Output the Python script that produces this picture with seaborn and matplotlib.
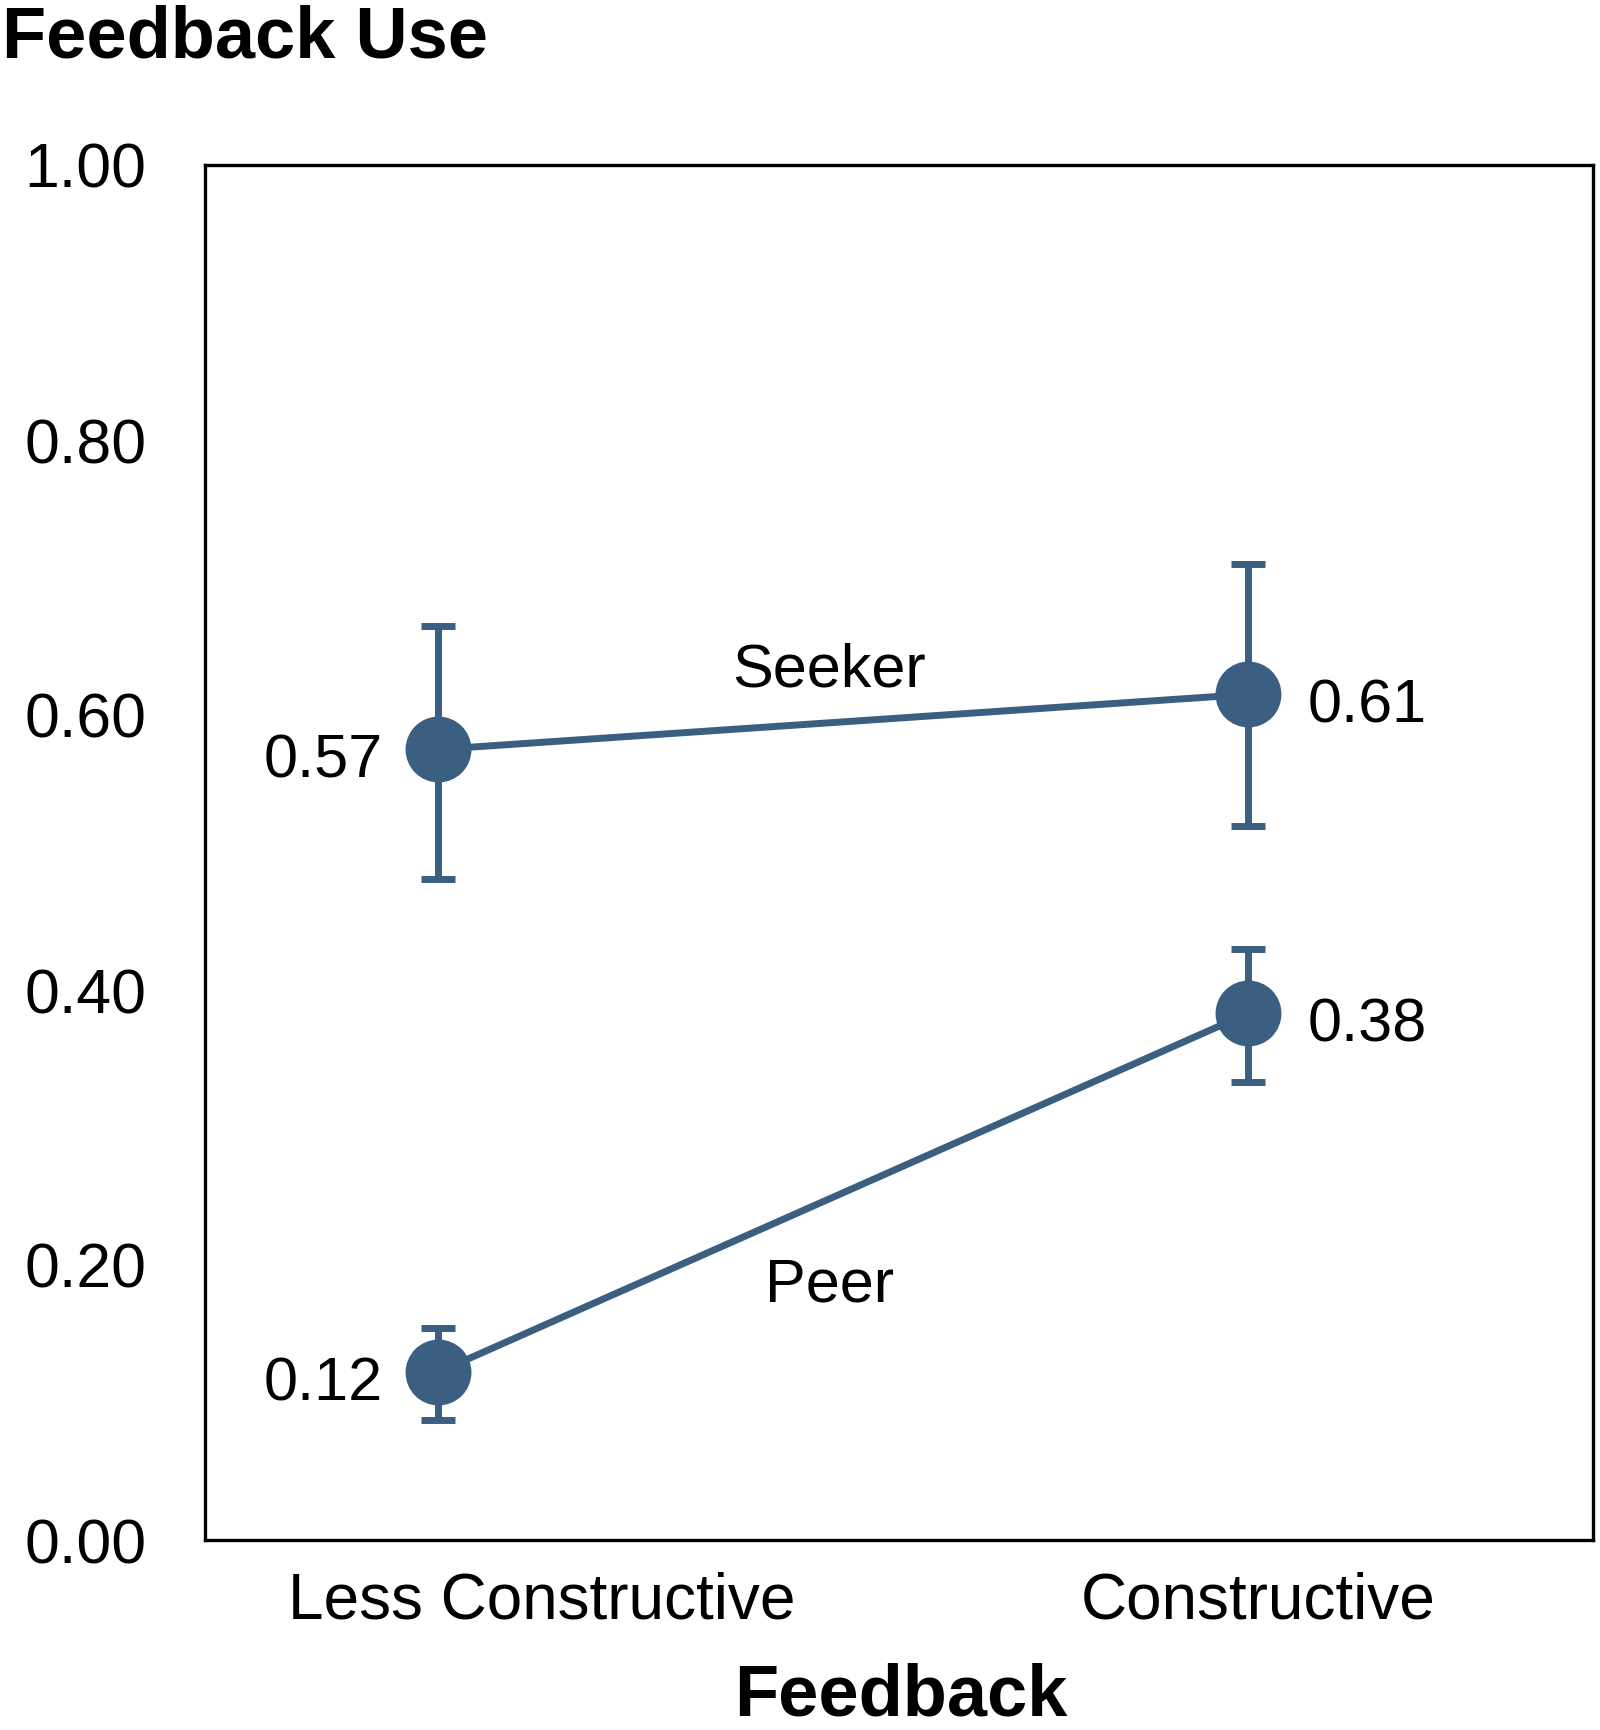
import numpy as np
import pandas as pd
import matplotlib
matplotlib.use("Agg")
import matplotlib.pyplot as plt
import matplotlib.transforms as mtransforms
import seaborn as sns

# values
feedback = ["Less Constructive", "Constructive"]
seeker_mean = [0.575, 0.615]
seeker_low = [0.481, 0.519]
seeker_high = [0.665, 0.710]
peer_mean = [0.122, 0.383]
peer_low = [0.087, 0.333]
peer_high = [0.154, 0.430]
seeker_labels = ["0.57", "0.61"]
peer_labels = ["0.12", "0.38"]
yticks = [0.0, 0.2, 0.4, 0.6, 0.8, 1.0]

COLOR = "#3a5f80"

sns.set_style("white")
plt.rcParams["font.family"] = ["Liberation Sans", "DejaVu Sans"]
plt.rcParams["text.color"] = "black"
plt.rcParams["xtick.color"] = "black"
plt.rcParams["ytick.color"] = "black"
plt.rcParams["axes.labelcolor"] = "black"

rows = []
for grp, means, lows, highs, labs in [
    ("Seeker", seeker_mean, seeker_low, seeker_high, seeker_labels),
    ("Peer", peer_mean, peer_low, peer_high, peer_labels),
]:
    for i, cat in enumerate(feedback):
        rows.append({"group": grp, "feedback": cat, "pos": i,
                     "mean": means[i], "low": lows[i], "high": highs[i],
                     "label": labs[i]})
df = pd.DataFrame(rows)

fig = plt.figure(figsize=(16, 17.3), dpi=100)
ax = fig.add_axes([205 / 1600, 1 - 1540 / 1730, 1388 / 1600, 1375 / 1730])

# error bars
for grp, d in df.groupby("group"):
    ax.errorbar(d["pos"], d["mean"],
                yerr=[d["mean"] - d["low"], d["high"] - d["mean"]],
                fmt="none", ecolor=COLOR, elinewidth=5, capsize=12.5,
                capthick=5, zorder=2)

sns.lineplot(data=df, x="pos", y="mean", units="group", estimator=None,
             color=COLOR, linewidth=5, ax=ax, zorder=3, legend=False)
sns.scatterplot(data=df, x="pos", y="mean", color=COLOR, s=2250,
                linewidth=0, ax=ax, zorder=4, legend=False)

# value labels next to points
for _, r in df.iterrows():
    if r["pos"] == 0:
        ax.annotate(r["label"], (r["pos"], r["mean"]), xytext=(-40, -20),
                    textcoords="offset points", ha="right", va="baseline",
                    fontsize=44)
    else:
        ax.annotate(r["label"], (r["pos"], r["mean"]), xytext=(43, -20),
                    textcoords="offset points", ha="left", va="baseline",
                    fontsize=44)

ax.text(0.483, 0.632, "Seeker", fontsize=44, ha="center", va="center")
ax.text(0.483, 0.185, "Peer", fontsize=44, ha="center", va="center")

ax.set_xlim(-0.2877, 1.426)
ax.set_ylim(0, 1)
ax.set_yticks(yticks)
ax.set_yticklabels([f"{v:.2f}" for v in yticks], fontsize=45)
ax.set_xticks(range(len(feedback)))
ax.set_xticklabels(feedback, fontsize=46)
ax.tick_params(axis="y", length=0, pad=42)
ax.tick_params(axis="x", length=0, pad=23)

# the reference has its category labels shifted right of the points
for lab, dx in zip(ax.get_xticklabels(), [104, 10]):
    off = mtransforms.ScaledTranslation(dx / 100, 0, fig.dpi_scale_trans)
    lab.set_transform(lab.get_transform() + off)

ax.set_ylabel("")
ax.set_xlabel("Feedback", fontsize=52, fontweight="bold")
ax.xaxis.label.set_va("baseline")
ax.xaxis.set_label_coords(0.5 + 2 / 1388, -(1716 - 1540) / 1375)

for sp in ax.spines.values():
    sp.set_visible(True)
    sp.set_color("black")
    sp.set_linewidth(2.4)

fig.text(0.001, 1 - 57 / 1730, "Feedback Use", fontsize=52,
         fontweight="bold", ha="left", va="baseline")

fig.savefig("out.png", dpi=100, facecolor="white")
